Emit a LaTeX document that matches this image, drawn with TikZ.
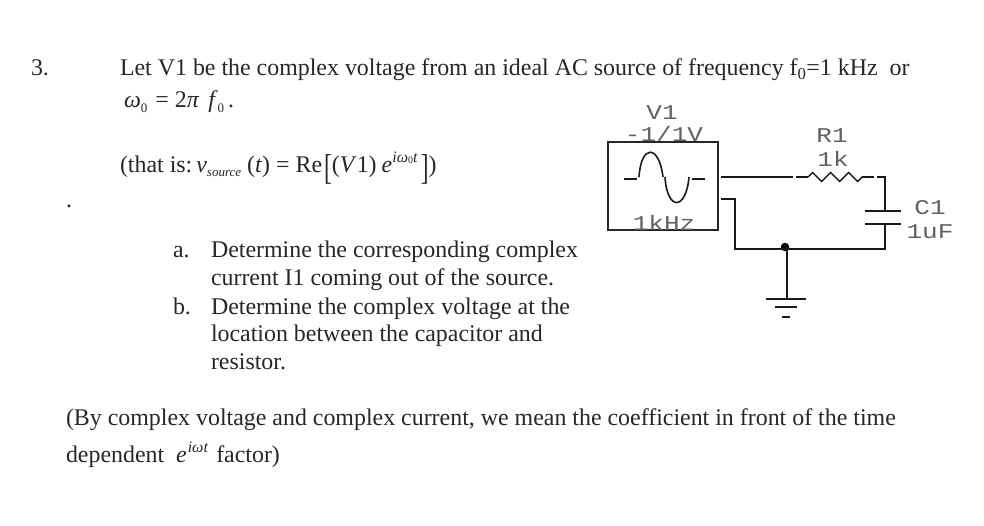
\documentclass[tikz,border=0pt]{standalone}
\usepackage{fontspec}
\setmainfont{Liberation Serif}
\newfontfamily\schem{Liberation Mono}
\newcommand{\subsc}[1]{\raisebox{-4pt}{\fontsize{13}{13}\selectfont\textit{#1}}}
\newcommand{\subup}[1]{\raisebox{-5pt}{\fontsize{13}{13}\selectfont #1}}
\newcommand{\supsc}[1]{\raisebox{10pt}{\fontsize{16}{16}\selectfont\textit{#1}}}
\newcommand{\bigbr}[1]{\raisebox{-7pt}{\scalebox{0.65}[1]{\fontsize{36}{36}\selectfont #1}}}
\tikzset{
  x=1pt,y=-1pt,
  txt/.style={anchor=base west,inner sep=0pt,outer sep=0pt,font=\fontsize{23.9}{26}\selectfont,text=black!85},
  lab/.style={anchor=center,inner sep=0pt,outer sep=0pt,font=\schem\fontsize{21}{22}\selectfont,text=black!62,xscale=1.24,transform shape},
  wire/.style={line width=1.4pt,draw=black!90,line cap=butt,line join=miter},
  wave/.style={wire,line width=1.6pt},
  srcbox/.style={draw=black!85,line width=1.5pt,inner sep=0pt,outer sep=0pt,minimum width=110pt,minimum height=88pt,fill=none},
  dotj/.style={circle,fill=black,inner sep=0pt,minimum size=8.5pt,outer sep=0pt}
}
\begin{document}
\begin{tikzpicture}
\useasboundingbox (0,0) rectangle (984,526);
% text
\node[txt] (n3) at (31,76) {3.};
\node[txt] (l1) at (120,76) {Let V1 be the complex voltage from an ideal AC source of frequency f\textsubscript{0}=1 kHz\ \ or};
\node[txt] (l2) at (124,108) {\textit{ω}\subup{0}\hspace{2pt} = 2\textit{π}\hspace{9pt}\textit{f}\subup{0}\hspace{4pt}.};
\node[txt] (l3) at (120,173) {(that is:\,\textit{v}\subsc{source}\hspace{6pt}(\textit{t}) = Re\hspace{2pt}\bigbr{[}(\textit{V}1)\hspace{5pt}\textit{e}\supsc{iω}\raisebox{9pt}{\fontsize{10}{10}\selectfont 0}\supsc{t}\hspace{3pt}\bigbr{]})};
\node[txt] (dot) at (66,208) {.};
\node[txt] (a) at (173,258) {a.};
\node[txt] (a1) at (211,258) {Determine the corresponding complex};
\node[txt] (a2) at (211,286) {current I1 coming out of the source.};
\node[txt] (b) at (173,314) {b.};
\node[txt] (b1) at (211,314) {Determine the complex voltage at the};
\node[txt] (b2) at (211,341) {location between the capacitor and};
\node[txt] (b3) at (211,369) {resistor.};
\node[txt] (c1) at (66,425) {(By complex voltage and complex current, we mean the coefficient in front of the time};
\node[txt] (c2) at (66,462) {dependent\ \ \textit{e}\hspace{1pt}\supsc{iωt}\hspace{2pt} factor)};
% source
\node[srcbox] (src) at (663,186) {};
\draw[wire] (624,179) -- (637,179);
\draw[wire] (692,179) -- (705,179);
\draw[wave] (639,177) .. controls (641,144) and (659,144) .. (663,177);
\draw[wave] (665,177) .. controls (667,211) and (686,211) .. (689,177);
\node[lab] (v1) at (662,113) {V1};
\node[lab] (v1v) at (664,134) {-1/1V};
\node[lab] (v1f) at (664,223) {1kHz};
\node[lab] (r1) at (832,136) {R1};
\node[lab] (r1v) at (833,159) {1k};
\node[lab] (c1n) at (930,208) {C1};
\node[lab] (c1v) at (930,232) {1uF};
% circuit points
\coordinate (srcA) at (721,177);
\coordinate (srcB) at (721,199);
\coordinate (rl) at (808,177);
\coordinate (rr) at (862,177);
\coordinate (cor) at (885,177);
\coordinate (ct) at (885,211);
\coordinate (cb) at (885,224);
\coordinate (corb) at (885,249);
\coordinate (corl) at (735,249);
\node[dotj] (j) at (785,247) {};
\coordinate (gnd) at (787,299);
\draw[wire] (srcA) -- (793,177) (796,177) -- (rl);
\draw[wire] (rl) -- ++(4.5,-4.5) -- ++(9,9) -- ++(9,-9) -- ++(9,9) -- ++(9,-9) -- ++(9,9) -- ++(4.5,-4.5) -- (rr);
\draw[wire] (rr) -- (874,177) (877,177) -- (cor) -- (ct);
\draw[wire] (865,211) -- (901,211);
\draw[wire] (865,224) -- (901,224);
\draw[wire] (cb) -- (corb) -- (corl) |- (srcB);
\draw[wire] (gnd |- j) -- (gnd);
\draw[wire] (766,299) -- (806,299);
\draw[wire] (775,307) -- (797,307);
\draw[wire] (782,317) -- (790,317);
\end{tikzpicture}
\end{document}
